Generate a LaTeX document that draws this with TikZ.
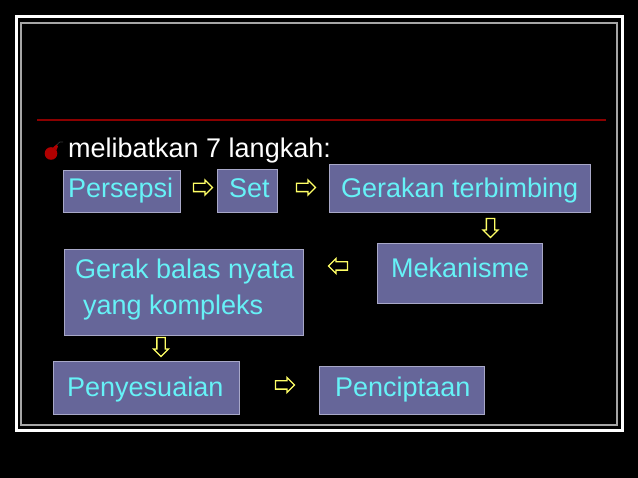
\documentclass[tikz,border=0pt]{standalone}
\usepackage{fontspec}
\setmainfont{Liberation Sans}
\usetikzlibrary{shapes.arrows}
\definecolor{boxfill}{HTML}{666699}
\definecolor{boxline}{HTML}{A8A8C8}
\definecolor{cyantext}{HTML}{66F2F7}
\definecolor{arrowyellow}{HTML}{FFFF66}
\definecolor{redline}{HTML}{8B0000}
\definecolor{bulletred}{HTML}{B00000}
\tikzset{
  box/.style={draw=boxline, fill=boxfill, line width=1pt, anchor=north west, inner sep=0pt},
  txt/.style={text=cyantext, anchor=base west, inner sep=0pt, font=\fontsize{27}{32}\selectfont},
  arr/.style={shape=single arrow, draw=arrowyellow, fill=black, line width=1.3pt,
    inner xsep=0pt, inner ysep=3.5pt, minimum height=19pt, minimum width=14pt,
    single arrow head extend=3.5pt, single arrow tip angle=90},
}
\begin{document}
\begin{tikzpicture}[x=1pt,y=-1pt]
\fill[black] (0,0) rectangle (638,478);
\useasboundingbox (0,0) rectangle (638,478);
% frames
\draw[white, line width=3pt] (16,17) rectangle (622,431);
\draw[gray!70, line width=1.5pt] (21,23) rectangle (617,425);
\draw[redline, line width=1.2pt] (37,120) -- (606,120);
% bullet
\fill[bulletred] (51,153.5) circle (6.3);
\fill[bulletred] (53,147.5) -- (56.5,144.5) -- (58,146.5) -- (56.5,150) -- cycle;
\draw[gray!40!black, line width=0.7pt] (57,145) .. controls (59,142) and (61,141) .. (63,142);
\node[anchor=base west, inner sep=0pt, text=white, font=\fontsize{27}{32}\selectfont] (intro) at (68,158) {melibatkan 7 langkah:};
% boxes
\node[box, minimum width=117pt, minimum height=42pt] (persepsi) at (63,170) {};
\node[txt] (tpersepsi) at (68,197.5) {Persepsi};
\node[box, minimum width=60pt, minimum height=43pt] (set) at (217,169) {};
\node[txt] (tset) at (229,197.5) {Set};
\node[box, minimum width=261pt, minimum height=48pt] (gerakan) at (329,164) {};
\node[txt] (tgerakan) at (341,198) {Gerakan terbimbing};
\node[box, minimum width=165pt, minimum height=60pt] (mekanisme) at (377,243) {};
\node[txt] (tmekanisme) at (391,278) {Mekanisme};
\node[box, minimum width=239pt, minimum height=86pt] (gerak) at (64,249) {};
\node[txt] (tgerak1) at (75,279) {Gerak balas nyata};
\node[txt] (tgerak2) at (83,315) {yang kompleks};
\node[box, minimum width=186pt, minimum height=53pt] (penyesuaian) at (53,361) {};
\node[txt] (tpenyesuaian) at (67,397) {Penyesuaian};
\node[box, minimum width=165pt, minimum height=48pt] (penciptaan) at (319,366) {};
\node[txt] (tpenciptaan) at (335,397) {Penciptaan};
% arrows
\node[arr] (a1) at (201,187.5) {};
\node[arr] (a2) at (304,187.5) {};
\node[arr, rotate=-90] (a3) at (490.5,226) {};
\node[arr, rotate=180] (a4) at (340,266) {};
\node[arr, rotate=-90] (a5) at (161,345) {};
\node[arr] (a6) at (283,385) {};
\end{tikzpicture}
\end{document}
